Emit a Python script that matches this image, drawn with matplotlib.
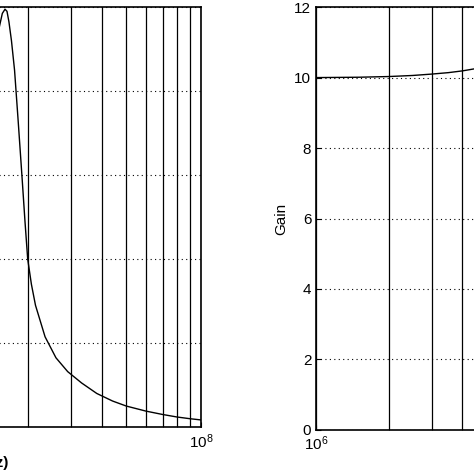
import matplotlib.pyplot as plt

plt.rcParams['font.family'] = ['Liberation Sans', 'DejaVu Sans']

# left panel (cropped): frequency in Hz vs response
freq_left = [1.45e7, 1.52e7, 1.58e7, 1.62e7, 1.65e7, 1.68e7, 1.72e7, 1.77e7, 1.83e7, 1.9e7,
             1.95e7, 2.0e7, 2.07e7, 2.15e7, 2.35e7, 2.6e7, 2.9e7, 3.3e7, 3.8e7, 4.4e7,
             5.0e7, 6.0e7, 7.0e7, 8.0e7, 9.0e7, 1.0e8]
resp_left = [8.6, 9.4, 9.85, 9.95, 9.9, 9.65, 9.2, 8.5, 7.3, 5.9,
             4.9, 4.0, 3.4, 2.9, 2.15, 1.65, 1.32, 1.05, 0.8, 0.62,
             0.5, 0.38, 0.3, 0.24, 0.2, 0.17]

# right panel: gain vs frequency
freq_right = [1e6, 1.5e6, 2e6, 2.5e6, 3e6, 3.5e6, 4e6, 4.5e6, 5e6]
gain_right = [10.0, 10.01, 10.03, 10.06, 10.1, 10.14, 10.19, 10.25, 10.31]

fig = plt.figure(figsize=(4.74, 4.74), dpi=100)

ax1 = fig.add_axes([-0.622, 0.099, 1.046, 0.886])
ax1.semilogx(freq_left, resp_left, color='black', lw=1)
ax1.set_xlim(1e6, 1e8)
ax1.set_ylim(0, 10)
ax1.set_xlabel('Frequency (Hz)', fontsize=11, fontweight='bold')

ax2 = fig.add_axes([0.667, 0.093, 1.025, 0.892])
ax2.semilogx(freq_right, gain_right, color='black', lw=1)
ax2.set_xlim(1e6, 1e8)
ax2.set_ylim(0, 12)
ax2.set_yticks([0, 2, 4, 6, 8, 10, 12])
ax2.set_ylabel('Gain', fontsize=11)

for ax in (ax1, ax2):
    ax.xaxis.grid(True, which='both', color='black', lw=0.9, ls='-')
    ax.yaxis.grid(True, which='major', color='black', lw=0.8, ls=(0, (1, 3)))
    ax.tick_params(labelsize=11, direction='in', which='both')
    for s in ax.spines.values():
        s.set_linewidth(1.2)

plt.savefig('out.png', dpi=100)
